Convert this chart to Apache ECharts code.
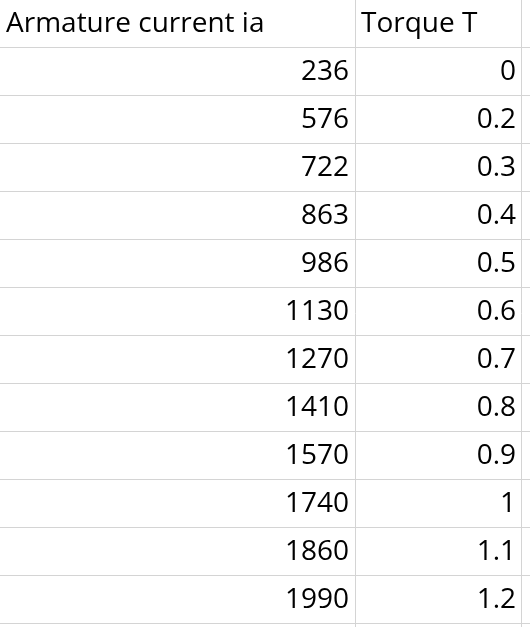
<!DOCTYPE html>
<html><head><meta charset="utf-8">
<script src="https://cdn.jsdelivr.net/npm/echarts@6/dist/echarts.min.js"></script>
<style>html,body{margin:0;padding:0;background:#fff}#c{width:530px;height:627px}</style>
</head><body><div id="c"></div>
<script>
const headers = ["Armature current ia", "Torque T"];
const current = [236, 576, 722, 863, 986, 1130, 1270, 1410, 1570, 1740, 1860, 1990];
const torque = [0, 0.2, 0.3, 0.4, 0.5, 0.6, 0.7, 0.8, 0.9, 1, 1.1, 1.2];

const chart = echarts.init(document.getElementById('c'), null, {renderer: 'canvas'});
const rowH = 48, colX = [0, 355, 521, 530];
const font = '28px "Open Sans", "Liberation Sans", sans-serif';
const els = [];
const nRows = current.length + 1;
for (let r = 1; r <= nRows; r++) {
  els.push({type: 'line', shape: {x1: 0, y1: r * rowH - 0.5, x2: 530, y2: r * rowH - 0.5}, style: {stroke: '#d4d4d4', lineWidth: 1}});
}
[355, 521].forEach(x => els.push({type: 'line', shape: {x1: x + 0.5, y1: 0, x2: x + 0.5, y2: 627}, style: {stroke: '#d4d4d4', lineWidth: 1}}));
els.push({type: 'text', x: 6, y: rowH / 2, style: {text: headers[0], font, fill: '#000', textVerticalAlign: 'middle'}});
els.push({type: 'text', x: 361, y: rowH / 2, style: {text: headers[1], font, fill: '#000', textVerticalAlign: 'middle'}});
current.forEach((v, i) => {
  const y = (i + 1) * rowH + rowH / 2;
  els.push({type: 'text', x: 349, y, style: {text: String(v), font, fill: '#000', textAlign: 'right', textVerticalAlign: 'middle'}});
  els.push({type: 'text', x: 516, y, style: {text: String(torque[i]), font, fill: '#000', textAlign: 'right', textVerticalAlign: 'middle'}});
});
chart.setOption({animation: false, graphic: els});
</script></body></html>
